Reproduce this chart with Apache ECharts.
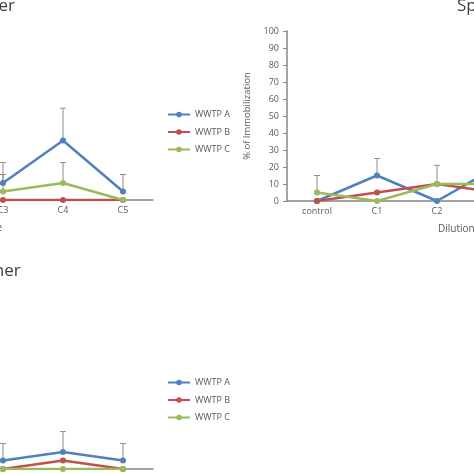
<!DOCTYPE html>
<html lang="en">

<head>
    <meta charset="UTF-8">
    <title>Immobilization by dilution</title>
    <script src="https://cdn.jsdelivr.net/npm/echarts@6/dist/echarts.min.js"></script>
    <style>
        html, body { margin: 0; padding: 0; background: #fff; }
        #container { width: 474px; height: 474px; }
    </style>
</head>

<body>
    <div id="container"></div>
    <script type="text/javascript">
        // data (panels cut by the crop)
        var categories = ['control', 'C1', 'C2', 'C3', 'C4', 'C5'];
        var seriesNames = ['WWTP A', 'WWTP B', 'WWTP C'];
        var yTicks = [0, 10, 20, 30, 40, 50, 60, 70, 80, 90, 100];

        // top-left panel (Winter)
        var winterA = [5, 10, 5, 10, 35, 5];
        var winterB = [0, 0, 0, 0, 0, 0];
        var winterC = [0, 5, 5, 5, 10, 0];
        var winterErr = [[3, 10, 22], [3, 5, 15], [4, 35, 54], [4, 10, 22], [5, 5, 15]];

        // top-right panel (Spring)
        var springA = [0, 15, 0, 20, 10, 5];
        var springB = [0, 5, 10, 5, 5, 0];
        var springC = [5, 0, 10, 10, 5, 0];
        var springErr = [[0, 5, 15], [1, 15, 25], [2, 10, 21]];

        // bottom-left panel (Summer)
        var summerA = [0, 5, 5, 5, 10, 5];
        var summerB = [0, 0, 0, 0, 5, 0];
        var summerC = [0, 0, 0, 0, 0, 0];
        var summerErr = [[3, 5, 15], [4, 10, 22], [5, 5, 15]];

        var colors = ['#4F81BD', '#C0504D', '#9BBB59'];
        var font = 'Open Sans';
        var textColor = '#595959';

        var dom = document.getElementById('container');
        var myChart = echarts.init(dom, null, { renderer: 'canvas' });

        function xAxisFor(i) {
            return {
                type: 'category',
                gridIndex: i,
                data: categories,
                axisLine: { lineStyle: { color: '#868686', width: 1.5 } },
                axisTick: { show: false },
                axisLabel: { fontSize: 9, color: textColor, fontFamily: font, margin: 6, interval: 0 },
                name: 'Dilution rate',
                nameLocation: 'middle',
                nameGap: 23,
                nameTextStyle: { fontSize: 10, color: textColor, fontFamily: font }
            };
        }

        function yAxisFor(i) {
            return {
                type: 'value',
                gridIndex: i,
                min: 0,
                max: yTicks[yTicks.length - 1],
                interval: yTicks[1] - yTicks[0],
                splitLine: { show: false },
                axisLine: { show: true, lineStyle: { color: '#868686', width: 1.5 } },
                axisTick: { show: true, length: 4, lineStyle: { color: '#868686' } },
                axisLabel: { fontSize: 9, color: textColor, fontFamily: font, margin: 8 },
                name: '% of Immobilization',
                nameLocation: 'middle',
                nameRotate: 90,
                nameGap: 29,
                nameTextStyle: { fontSize: 9.5, color: textColor, fontFamily: font }
            };
        }

        function lineSeries(name, data, i, color) {
            return {
                name: name,
                type: 'line',
                xAxisIndex: i,
                yAxisIndex: i,
                data: data,
                symbol: 'circle',
                symbolSize: 6,
                color: color,
                lineStyle: { width: 2.5, color: color },
                z: 3
            };
        }

        function errorSeries(data, i) {
            return {
                type: 'custom',
                xAxisIndex: i,
                yAxisIndex: i,
                data: data,
                z: 1,
                silent: true,
                clip: false,
                renderItem: function (params, api) {
                    var base = api.coord([api.value(0), api.value(1)]);
                    var top = api.coord([api.value(0), api.value(2)]);
                    var style = { stroke: '#8c8c8c', lineWidth: 1 };
                    return {
                        type: 'group',
                        children: [
                            { type: 'line', shape: { x1: base[0], y1: base[1], x2: top[0], y2: top[1] }, style: style },
                            { type: 'line', shape: { x1: top[0] - 3, y1: top[1], x2: top[0] + 3, y2: top[1] }, style: style }
                        ]
                    };
                }
            };
        }

        var titleStyle = { fontSize: 17, fontWeight: 'normal', color: '#404040', fontFamily: font };
        var legendStyle = { fontSize: 9, color: textColor, fontFamily: font };

        var option = {
            animation: false,
            backgroundColor: '#fff',
            title: [
                { text: 'Winter', left: -38, top: -2, padding: 0, textStyle: titleStyle },
                { text: 'Spring', left: 457, top: -2, padding: 0, textStyle: titleStyle },
                { text: 'Summer', left: -47, top: 263, padding: 0, textStyle: titleStyle }
            ],
            legend: [
                {
                    data: seriesNames, orient: 'vertical', left: 167, top: 110, padding: 0,
                    itemWidth: 22, itemHeight: 7, itemGap: 8.5, textStyle: legendStyle
                },
                {
                    data: seriesNames, orient: 'vertical', left: 167, top: 378, padding: 0,
                    itemWidth: 22, itemHeight: 7, itemGap: 8.5, textStyle: legendStyle
                }
            ],
            grid: [
                { left: -207, top: 30, width: 360, height: 170, outerBoundsMode: 'none', containLabel: false },
                { left: 287, top: 31, width: 360, height: 170, outerBoundsMode: 'none', containLabel: false },
                { left: -207, top: 299, width: 360, height: 170, outerBoundsMode: 'none', containLabel: false }
            ],
            xAxis: [xAxisFor(0), xAxisFor(1), xAxisFor(2)],
            yAxis: [yAxisFor(0), yAxisFor(1), yAxisFor(2)],
            series: [
                errorSeries(winterErr, 0),
                lineSeries(seriesNames[0], winterA, 0, colors[0]),
                lineSeries(seriesNames[1], winterB, 0, colors[1]),
                lineSeries(seriesNames[2], winterC, 0, colors[2]),
                errorSeries(springErr, 1),
                lineSeries(seriesNames[0], springA, 1, colors[0]),
                lineSeries(seriesNames[1], springB, 1, colors[1]),
                lineSeries(seriesNames[2], springC, 1, colors[2]),
                errorSeries(summerErr, 2),
                lineSeries(seriesNames[0], summerA, 2, colors[0]),
                lineSeries(seriesNames[1], summerB, 2, colors[1]),
                lineSeries(seriesNames[2], summerC, 2, colors[2])
            ]
        };

        myChart.setOption(option);
        window.addEventListener('resize', myChart.resize);
    </script>
</body>

</html>
